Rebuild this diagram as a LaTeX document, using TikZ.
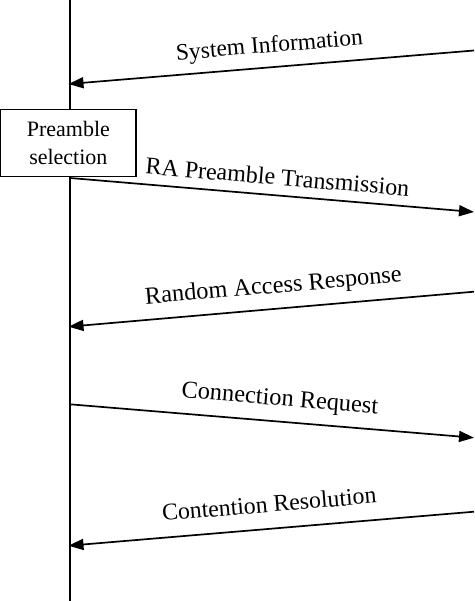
\documentclass[tikz,border=0pt]{standalone}
\usepackage{fontspec}
\setmainfont{Liberation Serif}
\usetikzlibrary{arrows.meta}
\begin{document}
\begin{tikzpicture}[x=1pt,y=-1pt,
  life/.style={line width=1.8pt},
  msg/.style={line width=1.7pt,-{Triangle[length=15pt,width=11pt]}},
  lbl/.style={sloped,inner sep=0pt,text depth=0pt,font=\fontsize{#1}{28}\selectfont},
  lbl/.default=24,
  box/.style={draw,fill=white,line width=1.5pt,inner sep=0pt,align=center,
    font=\fontsize{22}{28.5}\selectfont}]
\useasboundingbox (0,0) rectangle (474,601);
\coordinate (top) at (70,0);
\coordinate (bot) at (70,601);
\draw[life] (top) -- (bot);
\node[box,minimum width=135.3pt,minimum height=67.2pt] (sel) at (68.35,143.1) {Preamble\\selection};
% messages
\coordinate (r1) at (474,50.5);  \coordinate (l1) at (68.5,84);
\coordinate (l2) at (70,178);    \coordinate (r2) at (474,212);
\coordinate (r3) at (474,291.7); \coordinate (l3) at (68.5,326.7);
\coordinate (l4) at (70,404.3);  \coordinate (r4) at (474,437.7);
\coordinate (r5) at (474,511.7); \coordinate (l5) at (68.5,545.7);
\draw[msg] (r1) -- node[lbl=23.5,above=14pt] {System Information} (l1);
\draw[msg] (l2) -- node[lbl=24,above=9.5pt,pos=0.51] {RA Preamble Transmission} (r2);
\draw[msg] (r3) -- node[lbl=24.4,above=15pt,pos=0.49] {Random Access Response} (l3);
\draw[msg] (l4) -- node[lbl=24.4,above=15pt,pos=0.515] {Connection Request} (r4);
\draw[msg] (r5) -- node[lbl=23.8,above=16pt] {Contention Resolution} (l5);
\end{tikzpicture}
\end{document}
